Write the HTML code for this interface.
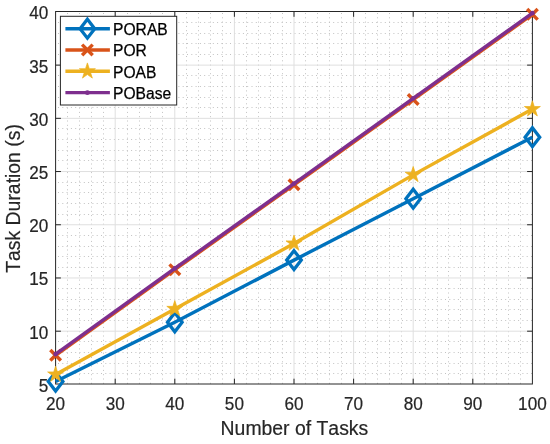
<!DOCTYPE html>
<html><head><meta charset="utf-8"><title>Task Duration vs Number of Tasks</title>
<style>html,body{margin:0;padding:0;background:#fff}body{width:550px;height:444px;overflow:hidden}</style></head>
<body>
<svg width="550" height="444" viewBox="0 0 550 444" style="display:block">
<rect width="550" height="444" fill="#fff"/>
<g stroke="#c2c2c2" stroke-width="1" stroke-dasharray="1 3.3" fill="none">
<line x1="67.5" y1="13" x2="67.5" y2="384.0"/>
<line x1="79.5" y1="13" x2="79.5" y2="384.0"/>
<line x1="91.5" y1="13" x2="91.5" y2="384.0"/>
<line x1="103.5" y1="13" x2="103.5" y2="384.0"/>
<line x1="127.5" y1="13" x2="127.5" y2="384.0"/>
<line x1="139.5" y1="13" x2="139.5" y2="384.0"/>
<line x1="150.5" y1="13" x2="150.5" y2="384.0"/>
<line x1="162.5" y1="13" x2="162.5" y2="384.0"/>
<line x1="186.5" y1="13" x2="186.5" y2="384.0"/>
<line x1="198.5" y1="13" x2="198.5" y2="384.0"/>
<line x1="210.5" y1="13" x2="210.5" y2="384.0"/>
<line x1="222.5" y1="13" x2="222.5" y2="384.0"/>
<line x1="246.5" y1="13" x2="246.5" y2="384.0"/>
<line x1="258.5" y1="13" x2="258.5" y2="384.0"/>
<line x1="270.5" y1="13" x2="270.5" y2="384.0"/>
<line x1="282.5" y1="13" x2="282.5" y2="384.0"/>
<line x1="305.5" y1="13" x2="305.5" y2="384.0"/>
<line x1="317.5" y1="13" x2="317.5" y2="384.0"/>
<line x1="329.5" y1="13" x2="329.5" y2="384.0"/>
<line x1="341.5" y1="13" x2="341.5" y2="384.0"/>
<line x1="365.5" y1="13" x2="365.5" y2="384.0"/>
<line x1="377.5" y1="13" x2="377.5" y2="384.0"/>
<line x1="389.5" y1="13" x2="389.5" y2="384.0"/>
<line x1="401.5" y1="13" x2="401.5" y2="384.0"/>
<line x1="425.5" y1="13" x2="425.5" y2="384.0"/>
<line x1="437.5" y1="13" x2="437.5" y2="384.0"/>
<line x1="448.5" y1="13" x2="448.5" y2="384.0"/>
<line x1="460.5" y1="13" x2="460.5" y2="384.0"/>
<line x1="484.5" y1="13" x2="484.5" y2="384.0"/>
<line x1="496.5" y1="13" x2="496.5" y2="384.0"/>
<line x1="508.5" y1="13" x2="508.5" y2="384.0"/>
<line x1="520.5" y1="13" x2="520.5" y2="384.0"/>
<line x1="58" y1="373.5" x2="532.4" y2="373.5"/>
<line x1="58" y1="363.5" x2="532.4" y2="363.5"/>
<line x1="58" y1="352.5" x2="532.4" y2="352.5"/>
<line x1="58" y1="341.5" x2="532.4" y2="341.5"/>
<line x1="58" y1="320.5" x2="532.4" y2="320.5"/>
<line x1="58" y1="309.5" x2="532.4" y2="309.5"/>
<line x1="58" y1="299.5" x2="532.4" y2="299.5"/>
<line x1="58" y1="288.5" x2="532.4" y2="288.5"/>
<line x1="58" y1="267.5" x2="532.4" y2="267.5"/>
<line x1="58" y1="256.5" x2="532.4" y2="256.5"/>
<line x1="58" y1="246.5" x2="532.4" y2="246.5"/>
<line x1="58" y1="235.5" x2="532.4" y2="235.5"/>
<line x1="58" y1="214.5" x2="532.4" y2="214.5"/>
<line x1="58" y1="203.5" x2="532.4" y2="203.5"/>
<line x1="58" y1="192.5" x2="532.4" y2="192.5"/>
<line x1="58" y1="182.5" x2="532.4" y2="182.5"/>
<line x1="58" y1="160.5" x2="532.4" y2="160.5"/>
<line x1="58" y1="150.5" x2="532.4" y2="150.5"/>
<line x1="58" y1="139.5" x2="532.4" y2="139.5"/>
<line x1="58" y1="128.5" x2="532.4" y2="128.5"/>
<line x1="58" y1="107.5" x2="532.4" y2="107.5"/>
<line x1="58" y1="97.5" x2="532.4" y2="97.5"/>
<line x1="58" y1="86.5" x2="532.4" y2="86.5"/>
<line x1="58" y1="75.5" x2="532.4" y2="75.5"/>
<line x1="58" y1="54.5" x2="532.4" y2="54.5"/>
<line x1="58" y1="43.5" x2="532.4" y2="43.5"/>
<line x1="58" y1="33.5" x2="532.4" y2="33.5"/>
<line x1="58" y1="22.5" x2="532.4" y2="22.5"/>
</g>
<g stroke="#dfdfdf" stroke-width="1" fill="none">
<line x1="115.20" y1="11.5" x2="115.20" y2="384.0"/>
<line x1="174.80" y1="11.5" x2="174.80" y2="384.0"/>
<line x1="234.40" y1="11.5" x2="234.40" y2="384.0"/>
<line x1="294.00" y1="11.5" x2="294.00" y2="384.0"/>
<line x1="353.60" y1="11.5" x2="353.60" y2="384.0"/>
<line x1="413.20" y1="11.5" x2="413.20" y2="384.0"/>
<line x1="472.80" y1="11.5" x2="472.80" y2="384.0"/>
<line x1="55.6" y1="331.19" x2="532.4" y2="331.19"/>
<line x1="55.6" y1="277.97" x2="532.4" y2="277.97"/>
<line x1="55.6" y1="224.76" x2="532.4" y2="224.76"/>
<line x1="55.6" y1="171.54" x2="532.4" y2="171.54"/>
<line x1="55.6" y1="118.33" x2="532.4" y2="118.33"/>
<line x1="55.6" y1="65.11" x2="532.4" y2="65.11"/>
</g>
<g stroke="#262626" stroke-width="1" fill="none">
<rect x="55.6" y="11.5" width="476.79999999999995" height="372.5"/>
<line x1="115.20" y1="384.0" x2="115.20" y2="378.7"/>
<line x1="115.20" y1="11.5" x2="115.20" y2="16.8"/>
<line x1="174.80" y1="384.0" x2="174.80" y2="378.7"/>
<line x1="174.80" y1="11.5" x2="174.80" y2="16.8"/>
<line x1="234.40" y1="384.0" x2="234.40" y2="378.7"/>
<line x1="234.40" y1="11.5" x2="234.40" y2="16.8"/>
<line x1="294.00" y1="384.0" x2="294.00" y2="378.7"/>
<line x1="294.00" y1="11.5" x2="294.00" y2="16.8"/>
<line x1="353.60" y1="384.0" x2="353.60" y2="378.7"/>
<line x1="353.60" y1="11.5" x2="353.60" y2="16.8"/>
<line x1="413.20" y1="384.0" x2="413.20" y2="378.7"/>
<line x1="413.20" y1="11.5" x2="413.20" y2="16.8"/>
<line x1="472.80" y1="384.0" x2="472.80" y2="378.7"/>
<line x1="472.80" y1="11.5" x2="472.80" y2="16.8"/>
<line x1="55.6" y1="331.19" x2="60.9" y2="331.19"/>
<line x1="532.4" y1="331.19" x2="527.1" y2="331.19"/>
<line x1="55.6" y1="277.97" x2="60.9" y2="277.97"/>
<line x1="532.4" y1="277.97" x2="527.1" y2="277.97"/>
<line x1="55.6" y1="224.76" x2="60.9" y2="224.76"/>
<line x1="532.4" y1="224.76" x2="527.1" y2="224.76"/>
<line x1="55.6" y1="171.54" x2="60.9" y2="171.54"/>
<line x1="532.4" y1="171.54" x2="527.1" y2="171.54"/>
<line x1="55.6" y1="118.33" x2="60.9" y2="118.33"/>
<line x1="532.4" y1="118.33" x2="527.1" y2="118.33"/>
<line x1="55.6" y1="65.11" x2="60.9" y2="65.11"/>
<line x1="532.4" y1="65.11" x2="527.1" y2="65.11"/>
</g>
<g font-family="'Liberation Sans', Arial, Helvetica, sans-serif" fill="#262626" stroke="#262626" stroke-width="0.2">
<g font-size="17.4" text-anchor="middle">
<text transform="translate(55.60 409.7) scale(0.985 1.02)">20</text>
<text transform="translate(115.20 409.7) scale(0.985 1.02)">30</text>
<text transform="translate(174.80 409.7) scale(0.985 1.02)">40</text>
<text transform="translate(234.40 409.7) scale(0.985 1.02)">50</text>
<text transform="translate(294.00 409.7) scale(0.985 1.02)">60</text>
<text transform="translate(353.60 409.7) scale(0.985 1.02)">70</text>
<text transform="translate(413.20 409.7) scale(0.985 1.02)">80</text>
<text transform="translate(472.80 409.7) scale(0.985 1.02)">90</text>
<text transform="translate(532.40 409.7) scale(0.985 1.02)">100</text>
</g>
<g font-size="17.4" text-anchor="end">
<text transform="translate(48.4 391.50) scale(0.985 1.02)">5</text>
<text transform="translate(48.4 338.59) scale(0.985 1.02)">10</text>
<text transform="translate(48.4 285.37) scale(0.985 1.02)">15</text>
<text transform="translate(48.4 232.16) scale(0.985 1.02)">20</text>
<text transform="translate(48.4 178.94) scale(0.985 1.02)">25</text>
<text transform="translate(48.4 125.73) scale(0.985 1.02)">30</text>
<text transform="translate(48.4 72.51) scale(0.985 1.02)">35</text>
<text transform="translate(48.4 19.00) scale(0.985 1.02)">40</text>
</g>
<g font-size="19.4" style="font-kerning:none">
<text x="220.6" y="435.2">Number of Tasks</text>
<text transform="translate(20.3 272.8) rotate(-90)">Task Duration (s)</text>
</g>
</g>
<polyline points="55.60,381.55 174.80,322.27 294.00,260.12 413.20,198.71 532.40,137.19" fill="none" stroke="#0072BD" stroke-width="3.4" stroke-linejoin="round"/>
<path d="M55.60 372.10L62.90 381.55L55.60 391.00L48.30 381.55Z" fill="none" stroke="#0072BD" stroke-width="3.3" stroke-linejoin="miter"/>
<path d="M174.80 312.82L182.10 322.27L174.80 331.72L167.50 322.27Z" fill="none" stroke="#0072BD" stroke-width="3.3" stroke-linejoin="miter"/>
<path d="M294.00 250.67L301.30 260.12L294.00 269.57L286.70 260.12Z" fill="none" stroke="#0072BD" stroke-width="3.3" stroke-linejoin="miter"/>
<path d="M413.20 189.26L420.50 198.71L413.20 208.16L405.90 198.71Z" fill="none" stroke="#0072BD" stroke-width="3.3" stroke-linejoin="miter"/>
<path d="M532.40 127.74L539.70 137.19L532.40 146.64L525.10 137.19Z" fill="none" stroke="#0072BD" stroke-width="3.3" stroke-linejoin="miter"/>
<polyline points="55.60,355.26 174.80,269.70 294.00,184.77 413.20,99.52 532.40,14.37" fill="none" stroke="#D95319" stroke-width="3.4" stroke-linejoin="round"/>
<path d="M50.30 349.96L60.90 360.56M50.30 360.56L60.90 349.96" fill="none" stroke="#D95319" stroke-width="3.4" stroke-linecap="butt"/>
<path d="M169.50 264.40L180.10 275.00M169.50 275.00L180.10 264.40" fill="none" stroke="#D95319" stroke-width="3.4" stroke-linecap="butt"/>
<path d="M288.70 179.47L299.30 190.07M288.70 190.07L299.30 179.47" fill="none" stroke="#D95319" stroke-width="3.4" stroke-linecap="butt"/>
<path d="M407.90 94.22L418.50 104.82M407.90 104.82L418.50 94.22" fill="none" stroke="#D95319" stroke-width="3.4" stroke-linecap="butt"/>
<path d="M527.10 9.07L537.70 19.67M527.10 19.67L537.70 9.07" fill="none" stroke="#D95319" stroke-width="3.4" stroke-linecap="butt"/>
<polyline points="55.60,374.53 174.80,308.97 294.00,243.51 413.20,174.87 532.40,109.10" fill="none" stroke="#EDB120" stroke-width="3.4" stroke-linejoin="round"/>
<polygon points="55.60,366.13 57.49,371.93 63.59,371.93 58.65,375.52 60.54,381.32 55.60,377.74 50.66,381.32 52.55,375.52 47.61,371.93 53.71,371.93" fill="#EDB120" stroke="#EDB120" stroke-width="0.7" stroke-linejoin="miter" stroke-miterlimit="10"/>
<polygon points="174.80,300.57 176.69,306.37 182.79,306.37 177.85,309.96 179.74,315.76 174.80,312.18 169.86,315.76 171.75,309.96 166.81,306.37 172.91,306.37" fill="#EDB120" stroke="#EDB120" stroke-width="0.7" stroke-linejoin="miter" stroke-miterlimit="10"/>
<polygon points="294.00,235.11 295.89,240.92 301.99,240.92 297.05,244.51 298.94,250.31 294.00,246.72 289.06,250.31 290.95,244.51 286.01,240.92 292.11,240.92" fill="#EDB120" stroke="#EDB120" stroke-width="0.7" stroke-linejoin="miter" stroke-miterlimit="10"/>
<polygon points="413.20,166.47 415.09,172.27 421.19,172.27 416.25,175.86 418.14,181.66 413.20,178.08 408.26,181.66 410.15,175.86 405.21,172.27 411.31,172.27" fill="#EDB120" stroke="#EDB120" stroke-width="0.7" stroke-linejoin="miter" stroke-miterlimit="10"/>
<polygon points="532.40,100.70 534.29,106.50 540.39,106.50 535.45,110.09 537.34,115.89 532.40,112.30 527.46,115.89 529.35,110.09 524.41,106.50 530.51,106.50" fill="#EDB120" stroke="#EDB120" stroke-width="0.7" stroke-linejoin="miter" stroke-miterlimit="10"/>
<polyline points="55.60,354.04 174.80,268.47 294.00,183.54 413.20,98.29 532.40,13.15" fill="none" stroke="#7E2F8E" stroke-width="3.4" stroke-linejoin="round"/>
<circle cx="55.60" cy="354.04" r="2.4" fill="#7E2F8E"/>
<circle cx="174.80" cy="268.47" r="2.4" fill="#7E2F8E"/>
<circle cx="294.00" cy="183.54" r="2.4" fill="#7E2F8E"/>
<circle cx="413.20" cy="98.29" r="2.4" fill="#7E2F8E"/>
<circle cx="532.40" cy="13.15" r="2.4" fill="#7E2F8E"/>
<rect x="60.4" y="16.3" width="116.29999999999998" height="88.7" fill="#fff" stroke="#262626" stroke-width="1"/>
<g font-family="'Liberation Sans', Arial, Helvetica, sans-serif" fill="#000" font-size="15.6" style="font-kerning:none">
<line x1="65.4" y1="28.7" x2="109.9" y2="28.7" stroke="#0072BD" stroke-width="3.4"/>
<path d="M87.40 19.25L94.70 28.70L87.40 38.15L80.10 28.70Z" fill="none" stroke="#0072BD" stroke-width="3.3" stroke-linejoin="miter"/>
<text x="113.1" y="35.00" stroke="#000" stroke-width="0.25">PORAB</text>
<line x1="65.4" y1="49.95" x2="109.9" y2="49.95" stroke="#D95319" stroke-width="3.4"/>
<path d="M82.10 44.65L92.70 55.25M82.10 55.25L92.70 44.65" fill="none" stroke="#D95319" stroke-width="3.4" stroke-linecap="butt"/>
<text x="113.1" y="56.25" stroke="#000" stroke-width="0.25">POR</text>
<line x1="65.4" y1="71.3" x2="109.9" y2="71.3" stroke="#EDB120" stroke-width="3.4"/>
<polygon points="87.40,62.90 89.29,68.70 95.39,68.70 90.45,72.29 92.34,78.10 87.40,74.51 82.46,78.10 84.35,72.29 79.41,68.70 85.51,68.70" fill="#EDB120" stroke="#EDB120" stroke-width="0.7" stroke-linejoin="miter" stroke-miterlimit="10"/>
<text x="113.1" y="77.60" stroke="#000" stroke-width="0.25">POAB</text>
<line x1="65.4" y1="92.65" x2="109.9" y2="92.65" stroke="#7E2F8E" stroke-width="3.4"/>
<circle cx="87.40" cy="92.65" r="2.4" fill="#7E2F8E"/>
<text x="113.1" y="98.95" stroke="#000" stroke-width="0.25">POBase</text>
</g>
</svg>
</body></html>
